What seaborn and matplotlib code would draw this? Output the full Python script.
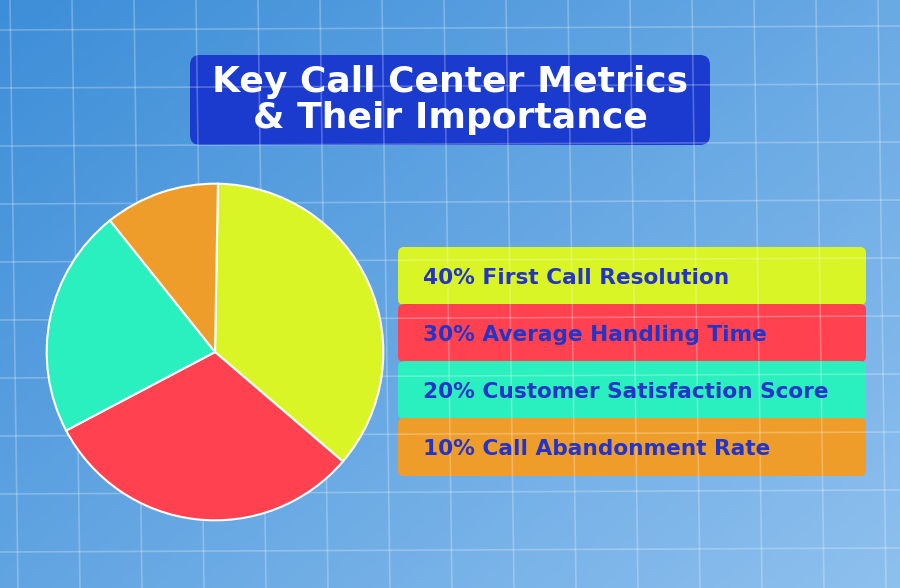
import numpy as np
import matplotlib
matplotlib.use('Agg')
import matplotlib.pyplot as plt
import seaborn as sns
from matplotlib.patches import FancyBboxPatch

sns.set_theme(style='white')
plt.rcParams['font.family'] = ['DejaVu Sans']

metrics = ['First Call Resolution', 'Average Handling Time',
           'Customer Satisfaction Score', 'Call Abandonment Rate']
label_pct = [40, 30, 20, 10]
# slice sizes as drawn in the picture (not exactly the labelled percents)
slice_sizes = [36, 31, 22, 11]
colors = ['#d9f525', '#ff4150', '#2aefbe', '#ef9d2a']
title = 'Key Call Center Metrics\n& Their Importance'

fig = plt.figure(figsize=(9, 5.88), dpi=100)

# background: blue gradient with a light grid
bg = fig.add_axes([0, 0, 1, 1])
xx, yy = np.meshgrid(np.linspace(0, 1, 300), np.linspace(0, 1, 200))
grad = 0.55 * xx + 0.45 * yy
cmap = matplotlib.colors.LinearSegmentedColormap.from_list('bg', ['#3d8ed8', '#8ec0ee'])
bg.imshow(grad, cmap=cmap, extent=[0, 900, 588, 0], aspect='auto')
for gx in range(10, 900, 62):
    bg.plot([gx, gx + 8], [0, 588], color='white', alpha=0.25, lw=1.2)
for gy in range(30, 588, 58):
    bg.plot([0, 900], [gy, gy - 4], color='white', alpha=0.25, lw=1.2)
bg.set_xlim(0, 900)
bg.set_ylim(588, 0)
bg.axis('off')

# title box
bg.add_patch(FancyBboxPatch((190, 55), 520, 90, boxstyle='round,pad=0,rounding_size=10',
                            fc='#1b3bcf', ec='none'))
bg.text(450, 100, title, ha='center', va='center', color='white',
        fontsize=26, fontweight='bold', linespacing=1.08)

# legend boxes
for i, (m, s, c) in enumerate(zip(metrics, label_pct, colors)):
    top = 247 + i * 57
    bg.add_patch(FancyBboxPatch((398, top), 468, 58, boxstyle='round,pad=0,rounding_size=6',
                                fc=c, ec='none'))
    bg.text(423, top + 31, f'{s}% {m}', ha='left', va='center', color='#2434c8',
            fontsize=15.6, fontweight='bold')

# pie
ax = fig.add_axes([45 / 900, 66 / 588, 340 / 900, 340 / 588])
ax.pie(slice_sizes, colors=colors, startangle=89, counterclock=False, radius=1,
       wedgeprops=dict(edgecolor='white', linewidth=1.5))
ax.set_xlim(-1.01, 1.01)
ax.set_ylim(-1.01, 1.01)
ax.set_aspect('equal')
ax.axis('off')

fig.savefig('out.png', dpi=100)
